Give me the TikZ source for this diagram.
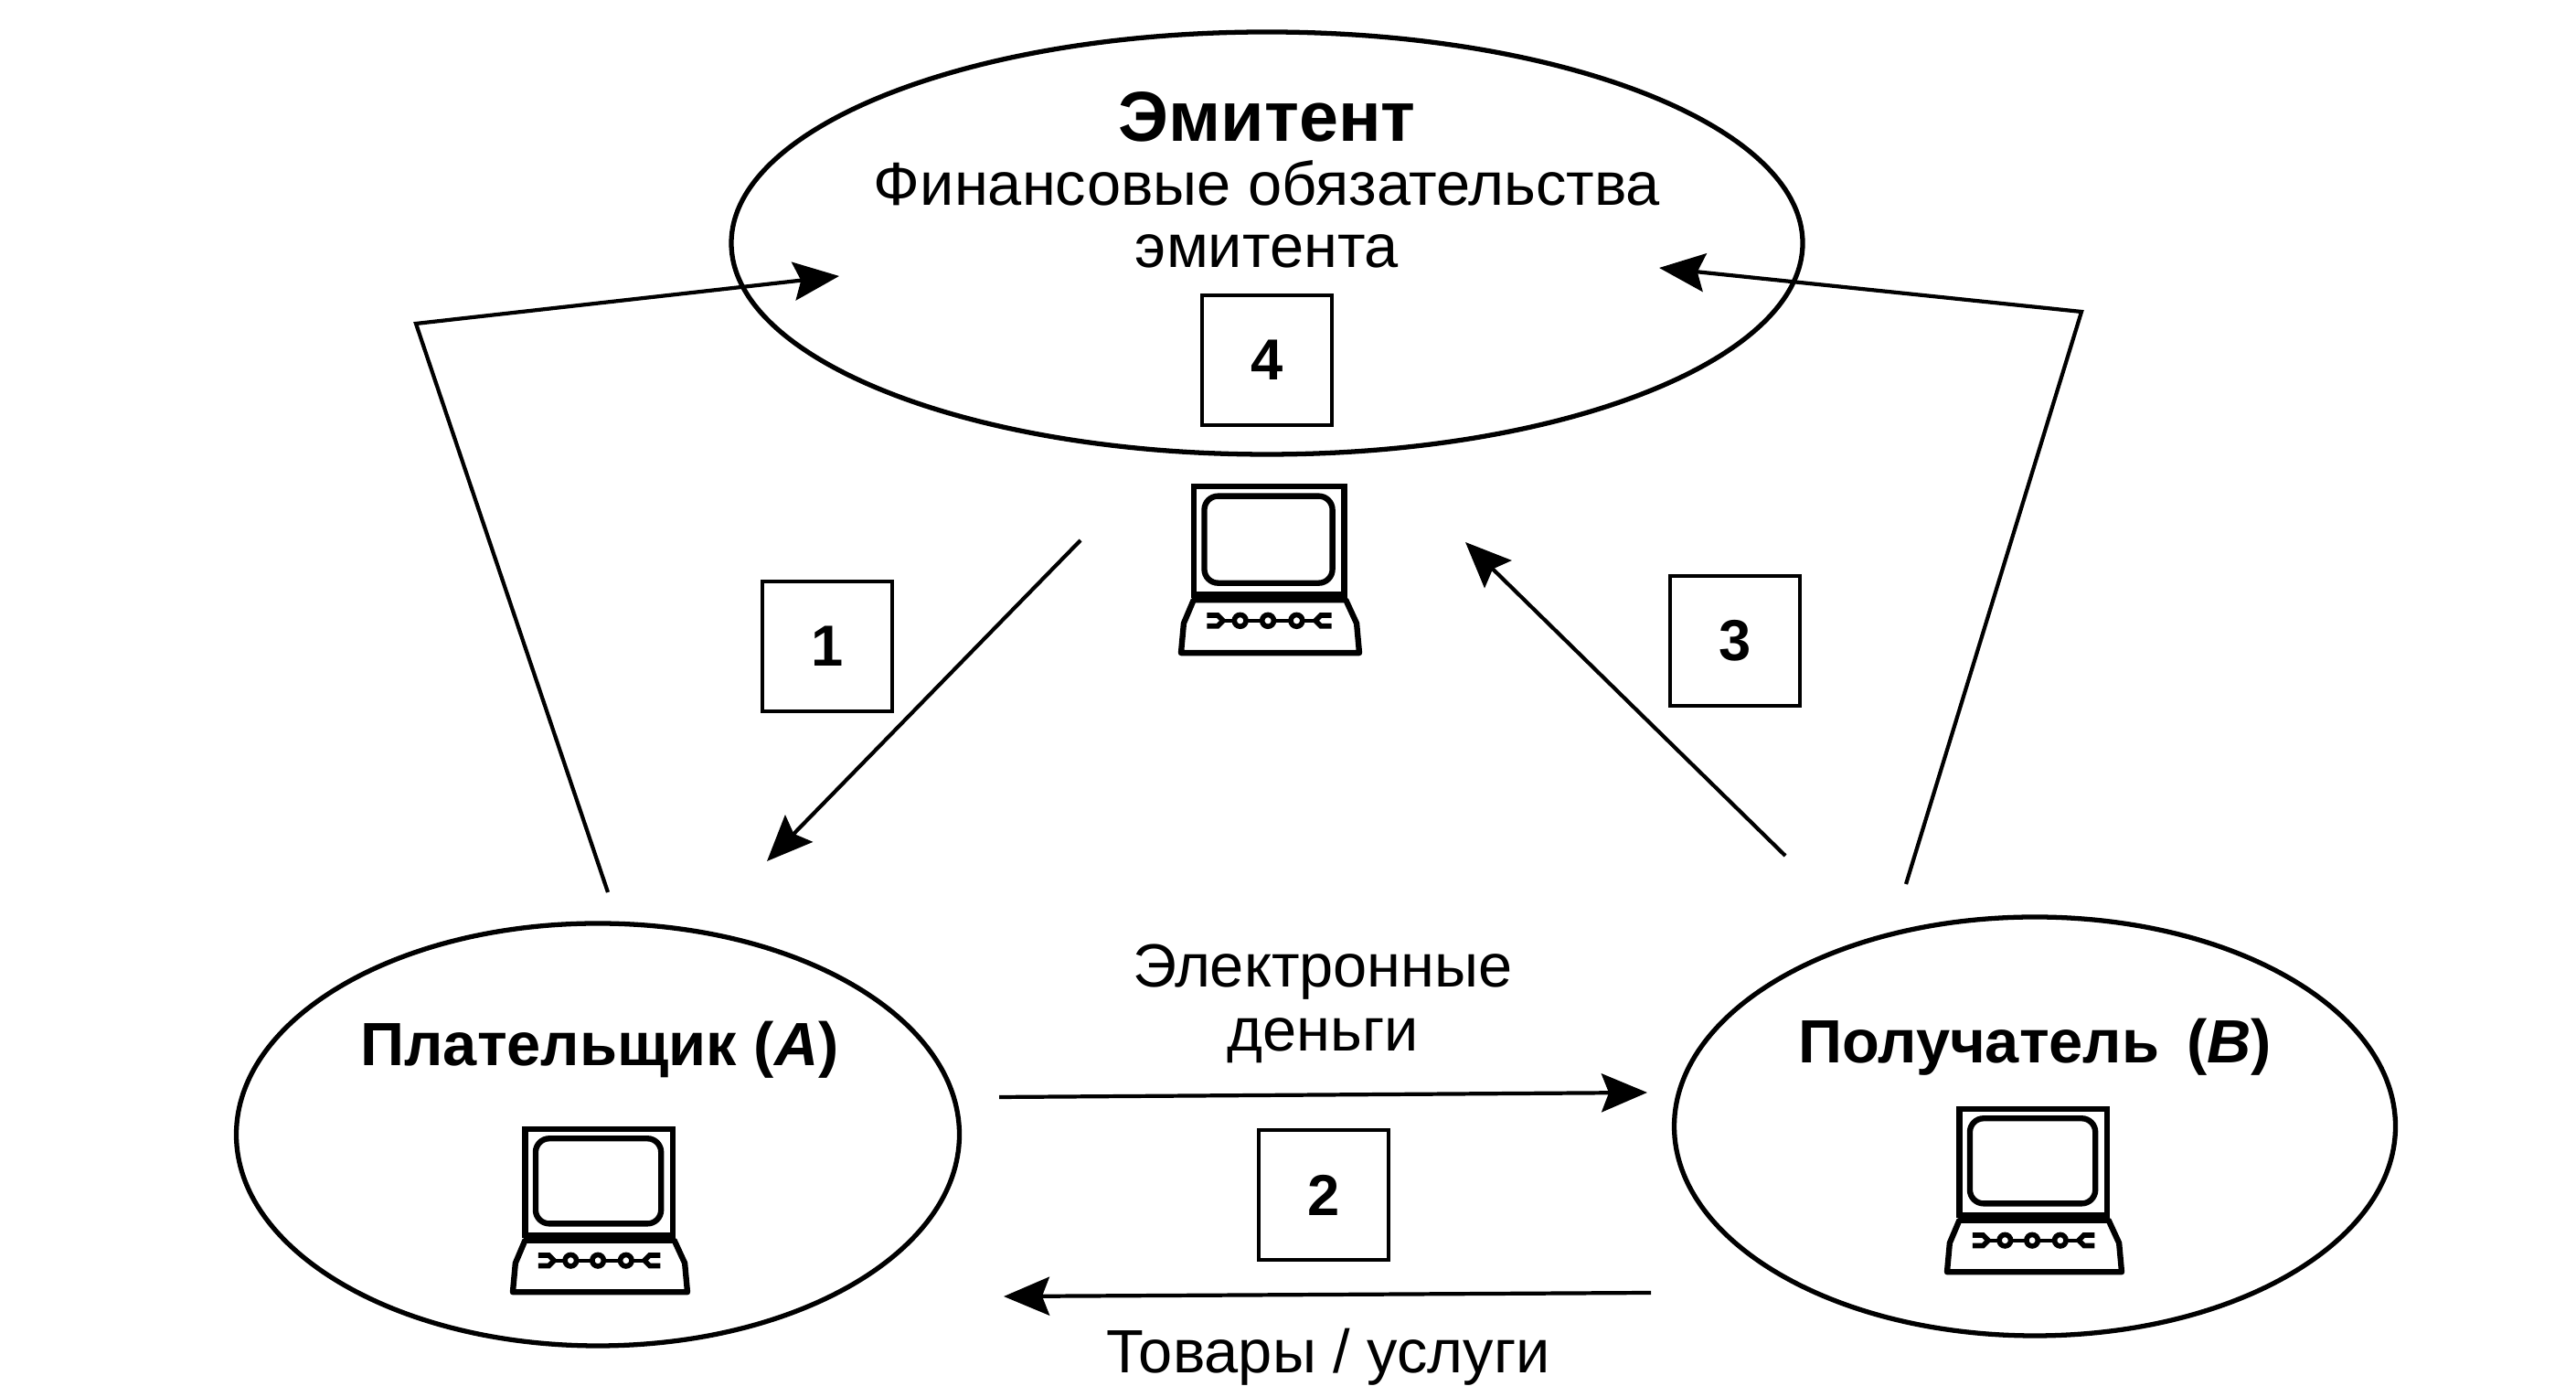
\documentclass[tikz,border=0pt]{standalone}
\usepackage{fontspec}
\setmainfont{Liberation Sans}
\usetikzlibrary{arrows.meta,shapes.geometric}
\tikzset{
  oval/.style={ellipse,draw,line width=1.5pt,inner sep=0pt},
  numbox/.style={rectangle,draw,line width=1.3pt,minimum width=1.42cm,minimum height=1.42cm,inner sep=0pt,font=\fontsize{18}{22}\selectfont\bfseries},
  caption/.style={font=\fontsize{19}{22}\selectfont,inner sep=0pt,anchor=base},
  title/.style={font=\fontsize{19}{22}\selectfont\bfseries,inner sep=0pt,anchor=base},
  flow/.style={line width=1.2pt,-{Stealth[length=0.50cm,width=0.42cm,inset=0.08cm]}},
  computer/.pic={
    \draw[line width=1.8pt] (-0.85,0.93) rectangle (0.83,-0.28);
    \draw[line width=1.8pt,rounded corners=0.15cm] (-0.73,0.82) rectangle (0.70,-0.15);
    \draw[line width=1.8pt,line join=round] (-0.85,-0.34) -- (0.85,-0.34) -- (0.97,-0.60) -- (1.00,-0.93) -- (-0.99,-0.93) -- (-0.96,-0.60) -- cycle;
    \draw[line width=1.6pt] (-0.70,-0.51) -- (-0.58,-0.51) -- (-0.52,-0.57) -- (-0.58,-0.63) -- (-0.70,-0.63);
    \draw[line width=1.6pt] (0.69,-0.51) -- (0.57,-0.51) -- (0.51,-0.57) -- (0.57,-0.63) -- (0.69,-0.63);
    \draw[line width=1.2pt] (-0.52,-0.57) -- (0.51,-0.57);
    \foreach \keyx in {-0.33,-0.02,0.30}
      \draw[line width=1.6pt,fill=white] (\keyx,-0.57) circle (0.065);
  }
}
\begin{document}
\begin{tikzpicture}
        \useasboundingbox (0,0) rectangle (28.18,15.28);

        \node[oval,minimum width=11.72cm,minimum height=4.62cm] (issuer) at (13.86,12.62) {};
        \node[oval,minimum width=7.91cm,minimum height=4.62cm] (payer) at ( 6.54, 2.87) {};
        \node[oval,minimum width=7.89cm,minimum height=4.58cm] (payee) at (22.26, 2.96) {};

        \node[title,font=\fontsize{22}{24}\selectfont\bfseries] (issuername) at (13.86,13.73) {Эмитент};
        \node[caption] (duty1) at (13.86,13.03) {Финансовые обязательства};
        \node[caption] (duty2) at (13.86,12.35) {эмитента};
        \node[title]   (payername) at ( 6.56, 3.62) {Плательщик (\textit{A})};
        \node[title]   (payeename) at (22.26, 3.65) {Получатель\ \,(\textit{B})};
        \node[caption] (money1) at (14.47, 4.48) {Электронные};
        \node[caption] (money2) at (14.47, 3.78) {деньги};
        \node[caption] (goods) at (14.53, 0.26) {Товары / услуги};

        \node[numbox] (n1) at ( 9.05, 8.21) {1};
        \node[numbox] (n2) at (14.48, 2.21) {2};
        \node[numbox] (n3) at (18.98, 8.27) {3};
        \node[numbox] (n4) at (13.86,11.34) {4};

        \pic[scale=0.98] (compI) at (13.89, 9.05) {computer};
        \pic[scale=0.96] (compA) at ( 6.56, 2.04) {computer};
        \pic[scale=0.96] (compB) at (22.25, 2.26) {computer};

        \coordinate (a1) at ( 6.65, 5.52);
        \coordinate (a2) at ( 4.55,11.74);
        \coordinate (a3) at ( 9.18,12.26);
        \coordinate (b1) at (20.85, 5.61);
        \coordinate (b2) at (22.77,11.87);
        \coordinate (b3) at (18.15,12.35);
        \coordinate (c1) at (11.82, 9.37);
        \coordinate (c2) at ( 8.39, 5.86);
        \coordinate (d1) at (19.53, 5.92);
        \coordinate (d2) at (16.03, 9.35);
        \coordinate (e1) at (10.93, 3.28);
        \coordinate (e2) at (18.02, 3.33);
        \coordinate (f1) at (18.06, 1.14);
        \coordinate (f2) at (10.98, 1.10);

        \draw[flow] (a1) -- (a2) -- (a3);
        \draw[flow] (b1) -- (b2) -- (b3);
        \draw[flow] (c1) to (c2);
        \draw[flow] (d1) to (d2);
        \draw[flow] (e1) to (e2);
        \draw[flow] (f1) to (f2);
      \end{tikzpicture}
\end{document}
